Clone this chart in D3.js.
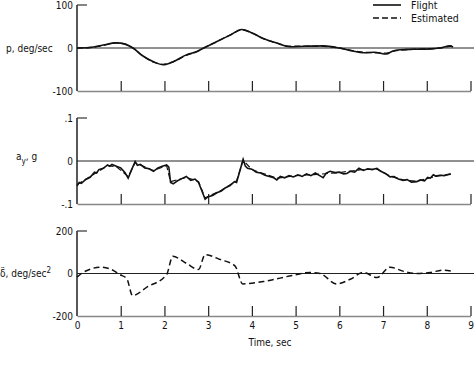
<!DOCTYPE html>
<html>
<head>
<meta charset="utf-8">
<script src="https://cdn.jsdelivr.net/npm/d3@7"></script>
<style>
  body { margin: 0; background: #fff; }
  svg text { font-family: "DejaVu Sans Condensed", "DejaVu Sans", sans-serif; fill: #111; }
</style>
</head>
<body>
<svg width="474" height="366"></svg>
<script>
// time axis
const timeTicks = [0, 1, 2, 3, 4, 5, 6, 7, 8, 9]

// roll rate p, deg/sec
const pTime = [0, 0.3, 0.6, 0.9, 1.1, 1.28, 1.5, 1.75, 1.97, 2.2, 2.5, 2.75, 2.9, 3.2, 3.5, 3.77, 4.0, 4.26, 4.55, 4.87, 5.2, 5.63, 6.0, 6.3, 6.55, 6.8, 7.08, 7.2, 7.39, 7.7, 8.08, 8.3, 8.54, 8.6]
const pFlight = [0, 1, 7, 12, 9, 0, -18, -32, -39, -32, -16, -8, 0, 15, 30, 43, 35, 22, 12, 3, 4, 5, 0, -7, -11, -10, -14, -8, -4, -3, -2, 0, 5, 2]
const pEstimated = [0, 1, 6, 12, 9, 0, -18, -33, -38, -32, -17, -8, 0, 15, 30, 42, 35, 22, 12, 4, 4, 4, 0, -6, -10, -11, -12, -8, -5, -3, -2, 0, 4, 2]

// lateral acceleration a_y, g
const ayTime = [0, 0.05, 0.1, 0.2, 0.3, 0.4, 0.45, 0.5, 0.6, 0.7, 0.75, 0.8, 0.9, 1.0, 1.1, 1.17, 1.25, 1.33, 1.38, 1.45, 1.55, 1.65, 1.75, 1.85, 1.95, 2.05, 2.1, 2.14, 2.2, 2.3, 2.4, 2.5, 2.6, 2.7, 2.78, 2.85, 2.93, 3.0, 3.1, 3.2, 3.3, 3.4, 3.5, 3.6, 3.65, 3.7, 3.8, 3.85, 3.9, 4.0, 4.1, 4.2, 4.3, 4.4, 4.5, 4.57, 4.65, 4.75, 4.85, 4.95, 5.05, 5.15, 5.25, 5.35, 5.45, 5.55, 5.63, 5.7, 5.79, 5.9, 6.0, 6.1, 6.17, 6.25, 6.35, 6.45, 6.55, 6.65, 6.75, 6.86, 6.95, 7.05, 7.16, 7.25, 7.35, 7.46, 7.55, 7.65, 7.77, 7.85, 7.95, 8.02, 8.08, 8.15, 8.2, 8.3, 8.4, 8.5, 8.55]
const ayFlight = [-0.058, -0.050, -0.052, -0.043, -0.038, -0.026, -0.028, -0.020, -0.017, -0.009, -0.012, -0.008, -0.012, -0.016, -0.027, -0.040, -0.020, -0.001, -0.010, -0.008, -0.016, -0.018, -0.024, -0.016, -0.012, -0.009, -0.014, -0.050, -0.053, -0.046, -0.041, -0.036, -0.045, -0.042, -0.050, -0.068, -0.089, -0.083, -0.080, -0.074, -0.070, -0.062, -0.057, -0.048, -0.050, -0.032, 0.004, -0.012, -0.017, -0.019, -0.026, -0.028, -0.033, -0.036, -0.039, -0.044, -0.036, -0.039, -0.034, -0.037, -0.032, -0.036, -0.030, -0.034, -0.028, -0.034, -0.039, -0.028, -0.024, -0.027, -0.026, -0.030, -0.029, -0.024, -0.026, -0.017, -0.022, -0.018, -0.020, -0.017, -0.024, -0.029, -0.037, -0.036, -0.042, -0.045, -0.043, -0.049, -0.048, -0.044, -0.046, -0.038, -0.040, -0.032, -0.035, -0.033, -0.034, -0.031, -0.030]
const ayEstTime = [0, 0.3, 0.7, 0.9, 1.17, 1.33, 1.6, 1.75, 2.05, 2.14, 2.5, 2.78, 2.93, 3.3, 3.65, 3.8, 4.0, 4.57, 5.0, 5.5, 6.0, 6.5, 6.86, 7.16, 7.46, 7.77, 8.08, 8.3, 8.55]
const ayEstimated = [-0.055, -0.036, -0.011, -0.013, -0.036, -0.004, -0.016, -0.022, -0.011, -0.048, -0.038, -0.048, -0.086, -0.068, -0.046, 0.002, -0.020, -0.040, -0.034, -0.031, -0.027, -0.020, -0.019, -0.035, -0.044, -0.047, -0.039, -0.034, -0.031]

// angular acceleration, deg/sec^2 (estimated only)
const ddTime = [0, 0.1, 0.3, 0.53, 0.75, 0.98, 1.14, 1.27, 1.6, 2.05, 2.19, 2.5, 2.78, 2.93, 3.3, 3.54, 3.62, 3.79, 4.26, 4.95, 5.33, 5.56, 5.94, 6.25, 6.55, 6.86, 7.16, 7.47, 7.77, 8.08, 8.38, 8.58]
const ddEstimated = [-17, 0, 20, 30, 22, -5, -25, -104, -64, -5, 81, 48, 19, 89, 64, 46, 34, -49, -38, -8, 5, 0, -49, -27, 5, -19, 30, 10, 0, 5, 16, 10]

const svg = d3.select('svg')

const x = d3.scaleLinear().domain([0, 9]).range([77, 470.5])

const panels = [
  { domain: [-100, 100], range: [91, 5], ticks: ['100', '0', '-100'], bottomLabels: false },
  { domain: [-0.1, 0.1], range: [204, 118], ticks: ['.1', '0', '-.1'], bottomLabels: false },
  { domain: [-200, 200], range: [316, 231], ticks: ['200', '0', '-200'], bottomLabels: true }
]

const lineGen = (y, xs, ys, curve) => d3.line()
  .x((d, i) => x(xs[i]))
  .y(d => y(d))
  .curve(curve)(ys)

const scales = panels.map(p => {
  const y = d3.scaleLinear().domain(p.domain).range(p.range)
  const g = svg.append('g')

  // bottom time axis, ticks pointing up
  const xAxis = d3.axisBottom(x).tickValues(timeTicks).tickSizeInner(-10).tickSizeOuter(0).tickPadding(6)
  if (!p.bottomLabels) xAxis.tickFormat('')
  const ax = g.append('g').attr('transform', `translate(0,${p.range[0]})`).call(xAxis)
  ax.select('.domain').attr('stroke', '#888').attr('stroke-width', 1.3)
  ax.selectAll('.tick line').attr('stroke', '#222').attr('stroke-width', 1.2)
  ax.selectAll('.tick').filter(d => d === 0).select('line').remove()
  ax.selectAll('.tick text').attr('font-size', 10).attr('fill', '#111')
    .attr('font-family', '"DejaVu Sans Condensed", sans-serif')

  // left axis line
  g.append('line').attr('x1', x(0)).attr('x2', x(0))
    .attr('y1', y(p.domain[1])).attr('y2', y(p.domain[0]))
    .attr('stroke', '#111').attr('stroke-width', 1.4)
  // top tick to the right
  g.append('line').attr('x1', x(0)).attr('x2', x(0) + 10)
    .attr('y1', y(p.domain[1])).attr('y2', y(p.domain[1]))
    .attr('stroke', '#333').attr('stroke-width', 1.2)
  // zero line
  g.append('line').attr('x1', x(0)).attr('x2', 474)
    .attr('y1', y(0)).attr('y2', y(0))
    .attr('stroke', '#222').attr('stroke-width', 1)

  // y tick labels
  const tickVals = [p.domain[1], 0, p.domain[0]]
  g.selectAll('.ylab').data(tickVals).enter().append('text')
    .attr('x', 73).attr('y', d => y(d)).attr('dy', '0.35em')
    .attr('text-anchor', 'end').attr('font-size', 10)
    .text((d, i) => p.ticks[i])
  return y
})

const [y1, y2, y3] = scales

// axis titles
svg.append('text').attr('x', 6).attr('y', 52).attr('font-size', 10).text('p, deg/sec')
const ayLab = svg.append('text').attr('x', 16).attr('y', 160).attr('font-size', 10)
ayLab.append('tspan').text('a')
ayLab.append('tspan').attr('dy', 4).attr('font-size', 8).text('y')
ayLab.append('tspan').attr('dy', -4).text(',  g')
const ddLab = svg.append('text').attr('x', 0).attr('y', 277).attr('font-size', 10)
ddLab.append('tspan').text('\u03b4\u0308, deg/sec')
ddLab.append('tspan').attr('dy', -4).attr('font-size', 8).text('2')
svg.append('text').attr('x', 270).attr('y', 346).attr('text-anchor', 'middle').attr('font-size', 10).text('Time, sec')

// series
svg.append('path').attr('d', lineGen(y1, pTime, pEstimated, d3.curveMonotoneX))
  .attr('fill', 'none').attr('stroke', '#111').attr('stroke-width', 1.4).attr('stroke-dasharray', '6,3')
svg.append('path').attr('d', lineGen(y1, pTime, pFlight, d3.curveMonotoneX))
  .attr('fill', 'none').attr('stroke', '#111').attr('stroke-width', 1.6)

svg.append('path').attr('d', lineGen(y2, ayEstTime, ayEstimated, d3.curveLinear))
  .attr('fill', 'none').attr('stroke', '#111').attr('stroke-width', 1.2).attr('stroke-dasharray', '6,3')
svg.append('path').attr('d', lineGen(y2, ayTime, ayFlight, d3.curveLinear))
  .attr('fill', 'none').attr('stroke', '#111').attr('stroke-width', 1.6)

svg.append('path').attr('d', lineGen(y3, ddTime, ddEstimated, d3.curveMonotoneX))
  .attr('fill', 'none').attr('stroke', '#111').attr('stroke-width', 1.5).attr('stroke-dasharray', '6,3.5')

// legend
const legend = [
  { label: 'Flight', dash: null, y: 5 },
  { label: 'Estimated', dash: '6,3', y: 18 }
]
const lg = svg.append('g')
legend.forEach(l => {
  lg.append('line').attr('x1', 373).attr('x2', 401).attr('y1', l.y).attr('y2', l.y)
    .attr('stroke', '#111').attr('stroke-width', 1.6).attr('stroke-dasharray', l.dash)
  lg.append('text').attr('x', 411).attr('y', l.y).attr('dy', '0.35em').attr('font-size', 10.5).text(l.label)
})
</script>
</body>
</html>
